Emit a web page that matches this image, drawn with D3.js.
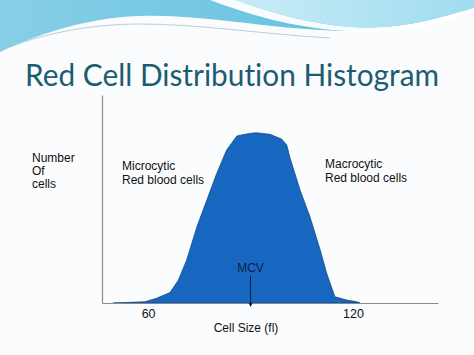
<!DOCTYPE html>
<html>
<head>
<meta charset="utf-8">
<script src="https://cdn.jsdelivr.net/npm/d3@7"></script>
<style>
html,body{margin:0;padding:0;background:#fbfcfd;}
svg{display:block;}
.title{font-variant-ligatures:none;font-feature-settings:"liga" 0,"clig" 0;}
</style>
</head>
<body>
<script>
// ---- data ----
const cellSize = [49.8, 59.1, 62.5, 66.4, 68.9, 71.3, 74.3, 77.2, 80.1, 83.0, 86.0, 88.9, 91.5, 95.7, 99.1, 100.6, 101.6, 104.5, 107.4, 110.4, 112.3, 114.7, 118.2, 121.1, 122.1];
const cellCount = [0, 0.6, 2.3, 5.0, 11.1, 20.7, 36.7, 49.5, 62.3, 73.6, 80.3, 81.3, 81.9, 81.1, 78.8, 76.0, 69.6, 54.3, 41.5, 25.5, 14.3, 3.0, 1.4, 0.6, 0];
const xTicks = [60, 120];
const mcvValue = 90;
const titleText = "Red Cell Distribution Histogram";
const xLabel = "Cell Size (fl)";
const yLabelLines = ["Number", "Of", "cells"];
const microLines = ["Microcytic", "Red blood cells"];
const macroLines = ["Macrocytic", "Red blood cells"];

const W = 474, H = 355;
const svg = d3.select("body").append("svg").attr("width", W).attr("height", H);

// ---- decorative header ----
const defs = svg.append("defs");
const g1 = defs.append("linearGradient").attr("id","bandGrad").attr("x1","0").attr("x2","1").attr("y1","0").attr("y2","0");
g1.append("stop").attr("offset","0%").attr("stop-color","#86cfe6");
g1.append("stop").attr("offset","50%").attr("stop-color","#72c6e2");
g1.append("stop").attr("offset","100%").attr("stop-color","#4fbde0");
const g2 = defs.append("linearGradient").attr("id","lightGrad").attr("x1","0").attr("x2","1").attr("y1","0").attr("y2","0");
g2.append("stop").attr("offset","0%").attr("stop-color","#c9ecf6");
g2.append("stop").attr("offset","100%").attr("stop-color","#9fdcef");

svg.append("rect").attr("width", W).attr("height", H).attr("fill", "#fbfcfd");
svg.append("path")
  .attr("d","M0,0 L474,0 L474,6 C430,22 390,32 340,31 C260,28 200,14 140,16 C80,18 30,38 0,52 Z")
  .attr("fill","url(#bandGrad)");
svg.append("path")
  .attr("d","M210,0 L236,0 C270,12 300,22 350,27 C400,30 440,18 474,8 L474,12 C440,24 400,34 345,31 C290,27 250,15 210,0 Z")
  .attr("fill","#ffffff").attr("opacity",0.95);
svg.append("path")
  .attr("d","M236,0 L474,0 L474,8 C440,18 400,30 350,27 C300,22 270,12 236,0 Z")
  .attr("fill","url(#lightGrad)");
svg.append("path")
  .attr("d","M2,50 C40,34 90,24 140,24 C200,24 260,34 330,38")
  .attr("fill","none").attr("stroke","#a9c4cc").attr("stroke-width",0.8);

// ---- title ----
svg.append("text")
  .attr("class", "title")
  .attr("x", 25).attr("y", 86)
  .attr("font-family", "Lato, 'Open Sans', sans-serif")
  .attr("font-size", 30)
  .attr("fill", "#1b5c72")
  .attr("textLength", 414).attr("lengthAdjust", "spacingAndGlyphs")
  .text(titleText);

// ---- chart ----
const plotLeft = 102, plotRight = 438, plotTop = 95, plotBottom = 303;
const x = d3.scaleLinear().domain([46.5, 144.9]).range([plotLeft, plotRight]);
const y = d3.scaleLinear().domain([0, 100]).range([plotBottom, plotTop]);

const pts = cellSize.map((s, i) => [s, cellCount[i]]);
const area = d3.area().x(d => x(d[0])).y0(y(0)).y1(d => y(d[1])).curve(d3.curveLinear);
svg.append("path").datum(pts)
  .attr("d", area)
  .attr("fill", "#1767c0")
  .attr("stroke", "#0d3f78").attr("stroke-width", 0.7);

const xAxis = d3.axisBottom(x).tickValues(xTicks).tickSize(0).tickPadding(6).tickFormat(d3.format("d"));
const gx = svg.append("g").attr("transform", `translate(0,${plotBottom})`).call(xAxis);
gx.select(".domain").attr("stroke", "#8a8a8a").attr("stroke-width", 1.2);
gx.selectAll("text").attr("font-family", "'Liberation Sans', Arial, sans-serif").attr("font-size", 12.5).attr("fill", "#111");

const yAxis = d3.axisLeft(y).tickValues([]).tickSize(0);
const gy = svg.append("g").attr("transform", `translate(${plotLeft},0)`).call(yAxis);
gy.select(".domain").attr("stroke", "#8a8a8a").attr("stroke-width", 1.2);

svg.append("text").attr("x", 246).attr("y", 332).attr("text-anchor", "middle")
  .attr("font-family", "'Liberation Sans', Arial, sans-serif").attr("font-size", 12).attr("fill", "#111")
  .text(xLabel);

function multiline(lines, x0, y0, dy) {
  const t = svg.append("text").attr("font-family", "'Liberation Sans', Arial, sans-serif")
    .attr("font-size", 12).attr("fill", "#111");
  lines.forEach((l, i) => t.append("tspan").attr("x", x0).attr("y", y0 + i * dy).text(l));
}
multiline(yLabelLines, 32, 162, 13);
multiline(microLines, 122, 170, 13.5);
multiline(macroLines, 325, 167.5, 14);

const mx = x(mcvValue);
svg.append("text").attr("x", mx).attr("y", 272).attr("text-anchor", "middle")
  .attr("font-family", "'Liberation Sans', Arial, sans-serif").attr("font-size", 12)
  .attr("fill", "#0b1e45").text("MCV");
svg.append("line").attr("x1", mx).attr("x2", mx).attr("y1", 276).attr("y2", 305)
  .attr("stroke", "#0b1a33").attr("stroke-width", 1);
svg.append("path")
  .attr("d", `M${mx-2},${303} L${mx+2},${303} L${mx},${307} Z`)
  .attr("fill", "#0b1a33");
</script>
</body>
</html>
